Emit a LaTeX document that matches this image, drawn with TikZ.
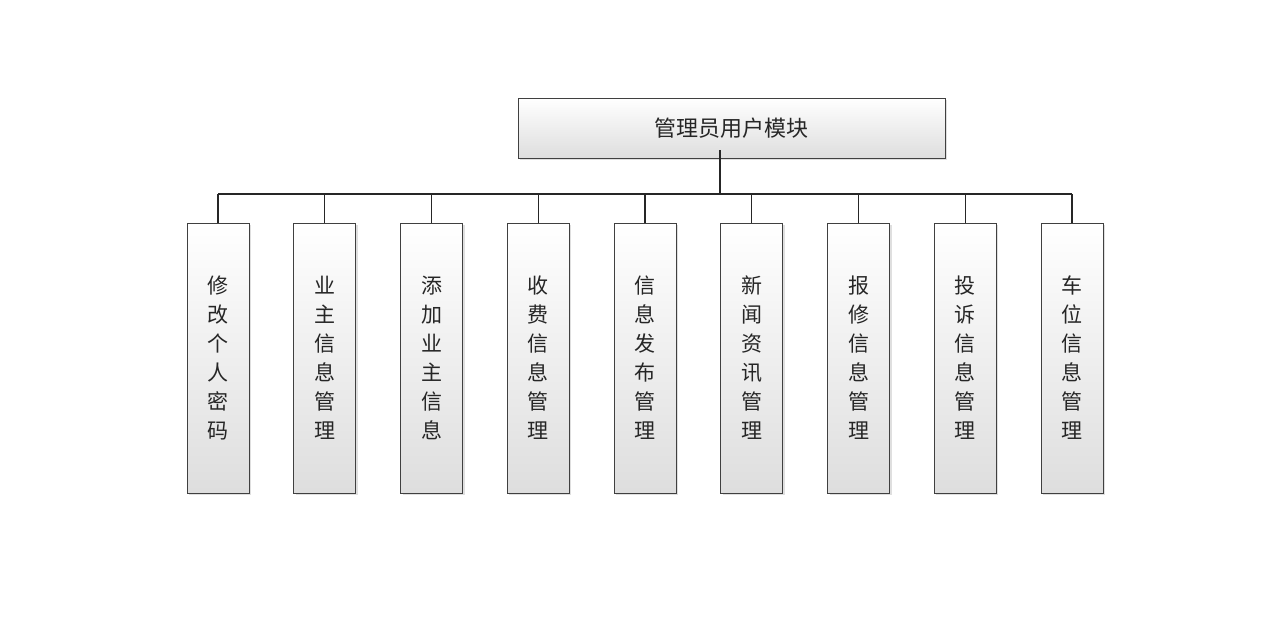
\documentclass[tikz,border=0pt]{standalone}
\usepackage{fontspec}
\setmainfont{Noto Sans CJK SC}
\usetikzlibrary{shadows}
\begin{document}
\begin{tikzpicture}[x=1pt,y=-1pt,
  box/.style={draw=black!75,line width=0.8pt,top color=white,bottom color=black!13,
    drop shadow={shadow xshift=2pt,shadow yshift=-2pt,fill=black!25}},
  kid/.style={box,minimum width=62pt,minimum height=270pt,inner sep=0pt,align=center,font=\fontsize{21}{29}\selectfont},
  wire/.style={line width=1.2pt,black!85}]
\useasboundingbox (0,0) rectangle (1280,621);
\node[box,minimum width=427pt,minimum height=60pt,font=\fontsize{22}{26}\selectfont,text=black!85] (top) at (731.5,128) {管理员用户模块};
\coordinate (bus) at (720,194);
\draw[wire,line width=2pt] (720,150) -- (bus);
\foreach \i/\t in {0/修\\改\\个\\人\\密\\码,1/业\\主\\信\\息\\管\\理,2/添\\加\\业\\主\\信\\息,3/收\\费\\信\\息\\管\\理,4/信\\息\\发\\布\\管\\理,5/新\\闻\\资\\讯\\管\\理,6/报\\修\\信\\息\\管\\理,7/投\\诉\\信\\息\\管\\理,8/车\\位\\信\\息\\管\\理}{
  \node[kid,text=black!85] (k\i) at ({218+106.75*\i},358) {\t};
  \coordinate (j\i) at ({218+106.75*\i},194);
  \draw[wire] (j\i) -- (k\i.north);
}
\draw[wire] (j0) -- (j8);
\end{tikzpicture}
\end{document}
